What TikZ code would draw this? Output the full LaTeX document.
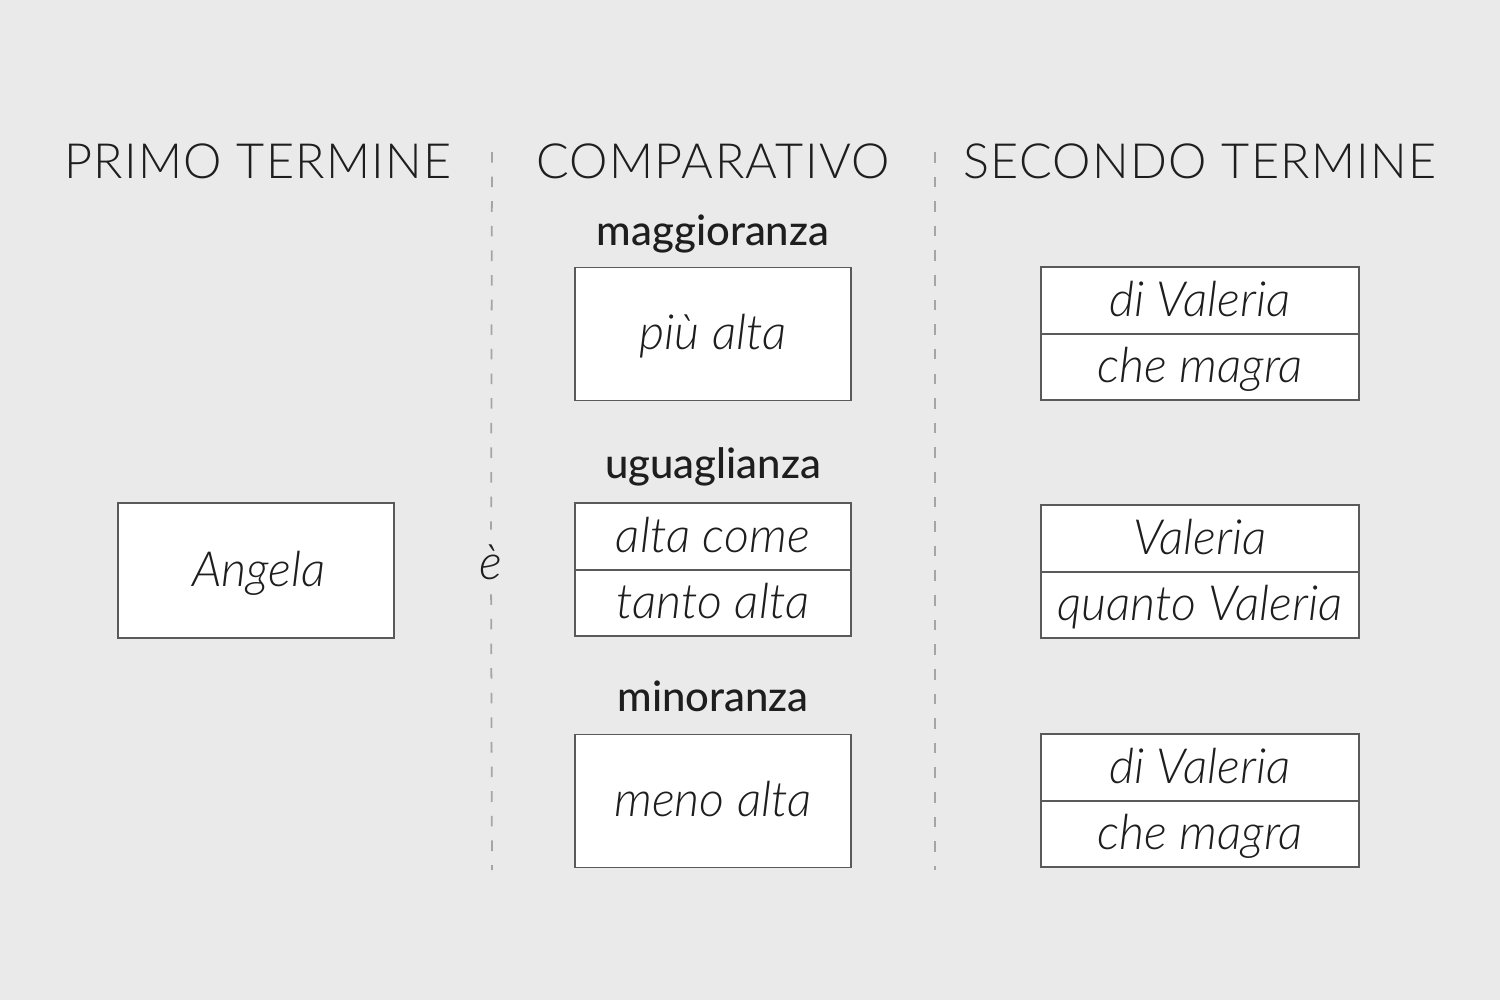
\documentclass[tikz,border=0pt]{standalone}
\usepackage{fontspec}
\setmainfont{Lato}
\newfontfamily\lightfont{Lato Light}[ItalicFont={Lato Light Italic}]
\newfontfamily\titlefont{Lato Light}[LetterSpace=2.8]
\newfontfamily\boldfont{Lato Medium}
\definecolor{paper}{RGB}{234,234,234}
\definecolor{ink}{RGB}{30,30,30}
\definecolor{frame}{RGB}{90,90,90}
\definecolor{sep}{RGB}{165,165,165}
\begin{document}
\begin{tikzpicture}[
        x=0.01cm, y=-0.01cm,
        every node/.style={text=ink, inner sep=0pt},
        title/.style={font=\titlefont\fontsize{13.8}{16}\selectfont, anchor=base},
        kind/.style={font=\boldfont\fontsize{11.9}{14}\selectfont, anchor=base},
        cell/.style={draw=frame, line width=0.45pt, fill=white, minimum width=2.76cm,
            text height=11pt, text depth=2pt,
            font=\lightfont\itshape\fontsize{13.8}{16}\selectfont},
        half/.style={cell, minimum height=0.665cm},
        full/.style={cell, minimum height=1.33cm},
        wide/.style={minimum width=3.18cm},
        sepline/.style={draw=sep, line width=0.5pt, dash pattern=on 3pt off 4pt},
    ]

    % background
    \fill[paper] (0,0) rectangle (1500,1000);
    \useasboundingbox (0,0) rectangle (1500,1000);

    % column titles
    \node[title](t1) at (258,178) {PRIMO TERMINE};
    \node[title](t2) at (713,178) {COMPARATIVO};
    \node[title](t3) at (1200,178) {SECONDO TERMINE};

    % separators
    \coordinate (s1top) at (492,152);
    \coordinate (s1bot) at (492,870);
    \coordinate (s2top) at (935,152);
    \coordinate (s2bot) at (935,870);
    \node[font=\lightfont\itshape\fontsize{13.8}{16}\selectfont, inner sep=4pt](verb) at (491,562) {è};
    \draw[sepline] (s1top) -- (verb);
    \draw[sepline] (verb) -- (s1bot);
    \draw[sepline] (s2top) -- (s2bot);

    % primo termine
    \node[cell, minimum height=1.35cm](angela) at (256,570.5) {\hspace*{1.7pt}Angela};

    % comparativo
    \node[kind](kmag) at (713,245) {maggioranza};
    \node[full](piu) at (713,334) {più alta};
    \node[kind](kugu) at (713,478) {uguaglianza};
    \node[half](come) at (713,536.5) {alta come};
    \node[half](tanto) at (713,603) {tanto alta};
    \node[kind](kmin) at (713,711) {minoranza};
    \node[full](meno) at (713,801) {meno alta};

    % secondo termine
    \node[half, wide](di1) at (1200,300.5) {di Valeria};
    \node[half, wide](che1) at (1200,367) {che magra};
    \node[half, wide](val) at (1200,538.5) {Valeria};
    \node[half, wide](quanto) at (1200,605) {quanto Valeria};
    \node[half, wide](di2) at (1200,767.5) {di Valeria};
    \node[half, wide](che2) at (1200,834) {che magra};

\end{tikzpicture}
\end{document}
